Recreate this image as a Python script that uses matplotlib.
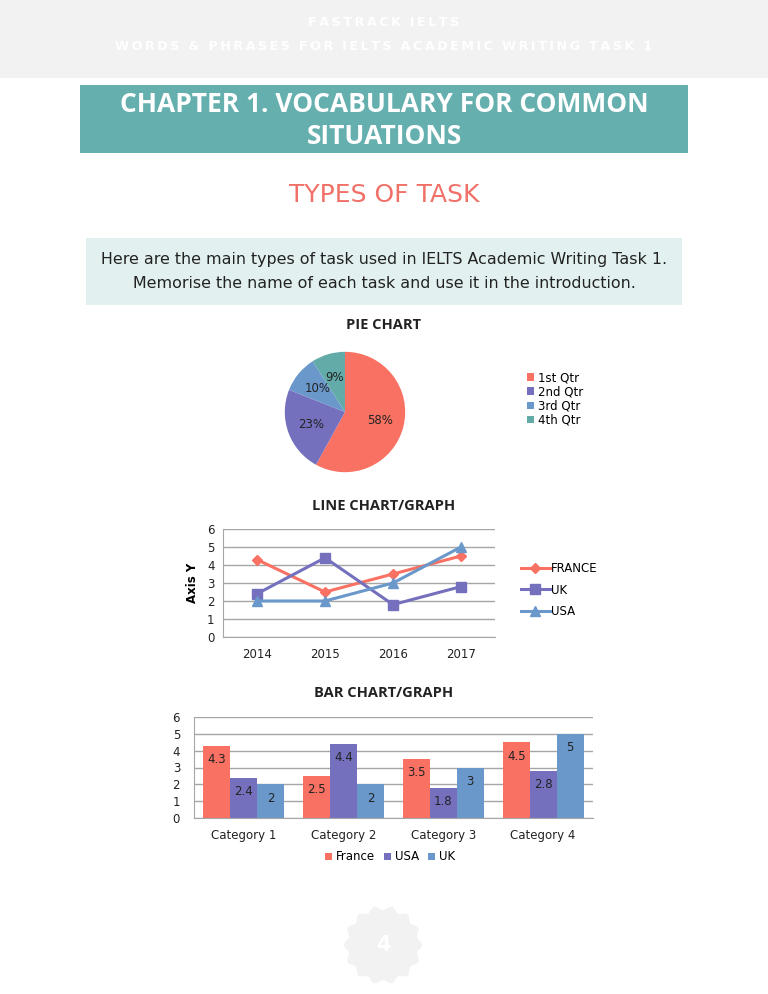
import numpy as np
import matplotlib.pyplot as plt
from matplotlib.patches import Rectangle, Polygon

W, H = 768, 994

# data
pie_labels = ['1st Qtr', '2nd Qtr', '3rd Qtr', '4th Qtr']
pie_values = [58, 23, 10, 9]

years = ['2014', '2015', '2016', '2017']
line_france = [4.3, 2.5, 3.5, 4.5]
line_uk = [2.4, 4.4, 1.8, 2.8]
line_usa = [2, 2, 3, 5]

categories = ['Category 1', 'Category 2', 'Category 3', 'Category 4']
bar_france = [4.3, 2.5, 3.5, 4.5]
bar_usa = [2.4, 4.4, 1.8, 2.8]
bar_uk = [2, 2, 3, 5]

RED = '#F87163'
PURPLE = '#7470BE'
BLUE = '#6A98CB'
TEAL = '#63ABA8'
GRID = '#A6A6A6'
FONT = 'DejaVu Sans'

fig = plt.figure(figsize=(W / 100, H / 100), dpi=100)
fig.patch.set_facecolor('white')


def fx(x):
    return x / W


def fy(y):
    return 1 - y / H


def add_ax(x0, y0, x1, y1):
    return fig.add_axes([fx(x0), fy(y1), (x1 - x0) / W, (y1 - y0) / H])


def spaced(s):
    # letter-spaced caps like the page header
    return '\u2009'.join(s).replace('\u2009 \u2009', '  ')


# page furniture
fig.patches.append(Rectangle((0, fy(78)), 1, 78 / H, transform=fig.transFigure,
                             facecolor='#F2F2F2', edgecolor='none'))
fig.text(0.5, fy(22), spaced('FASTRACK IELTS'), ha='center', va='center',
         color='white', fontsize=9.2, fontweight='bold', family=FONT)
fig.text(0.5, fy(47), spaced('WORDS & PHRASES FOR IELTS ACADEMIC WRITING TASK 1'),
         ha='center', va='center', color='white', fontsize=9.2, fontweight='bold', family=FONT)

fig.patches.append(Rectangle((fx(80), fy(153)), 608 / W, 68 / H, transform=fig.transFigure,
                             facecolor='#66AFAF', edgecolor='none'))
fig.text(0.5, fy(104), 'CHAPTER 1. VOCABULARY FOR COMMON', ha='center', va='center',
         color='white', fontsize=19, fontweight='bold', family='Open Sans')
fig.text(0.5, fy(136), 'SITUATIONS', ha='center', va='center',
         color='white', fontsize=19, fontweight='bold', family='Open Sans')

fig.text(0.5, fy(195), 'TYPES OF TASK', ha='center', va='center',
         color='#F07167', fontsize=18, family=FONT)

fig.patches.append(Rectangle((fx(86), fy(305)), 596 / W, 67 / H, transform=fig.transFigure,
                             facecolor='#E2F0F0', edgecolor='none'))
fig.text(0.5, fy(260), 'Here are the main types of task used in IELTS Academic Writing Task 1.',
         ha='center', va='center', color='#222222', fontsize=11.4, family=FONT)
fig.text(0.5, fy(284), 'Memorise the name of each task and use it in the introduction.',
         ha='center', va='center', color='#222222', fontsize=11.4, family=FONT)

# pie chart
fig.text(fx(384), fy(325), 'PIE CHART', ha='center', va='center',
         fontsize=10.5, fontweight='bold', family='Open Sans', color='#222222')
ax = add_ax(280, 347, 410, 477)
wedges, _, autotexts = ax.pie(pie_values, colors=[RED, PURPLE, BLUE, TEAL], startangle=90,
                              counterclock=False, autopct='%.0f%%', pctdistance=0.6,
                              textprops=dict(fontsize=8.5, color='#222222', family=FONT))
ax.set_xlim(-1.08, 1.08)
ax.set_ylim(-1.08, 1.08)
ax.set_aspect('equal')
fig.legend(wedges, pie_labels, loc='center left', bbox_to_anchor=(fx(516), fy(399)),
           frameon=False, handlelength=0.6, handleheight=0.6,
           handletextpad=0.4, labelspacing=0.1, prop=dict(family=FONT, size=8.5))

# line chart
fig.text(fx(384), fy(506), 'LINE CHART/GRAPH', ha='center', va='center',
         fontsize=10.5, fontweight='bold', family='Open Sans', color='#222222')
ax = add_ax(223, 529, 495, 637)
x = np.arange(len(years))
ax.plot(x, line_france, color=RED, lw=2.2, marker='D', ms=5.5, label='FRANCE')
ax.plot(x, line_uk, color=PURPLE, lw=2.2, marker='s', ms=7, label='UK')
ax.plot(x, line_usa, color=BLUE, lw=2.2, marker='^', ms=7.5, label='USA')
ax.set_xlim(-0.5, 3.5)
ax.set_ylim(0, 6)
ax.set_yticks(range(7))
ax.set_xticks(x)
ax.set_xticklabels(years)
ax.yaxis.grid(True, color=GRID, lw=1)
ax.set_axisbelow(True)
for s in ['top', 'right']:
    ax.spines[s].set_visible(False)
for s in ['left', 'bottom']:
    ax.spines[s].set_color(GRID)
ax.tick_params(length=0, labelsize=8.5, colors='#222222', pad=8)
ax.tick_params(axis='y', pad=6)
for t in ax.get_xticklabels() + ax.get_yticklabels():
    t.set_family(FONT)
ax.set_ylabel('Axis Y', fontsize=8.5, fontweight='bold', family=FONT, labelpad=6)
ax.legend(loc='center left', bbox_to_anchor=(fx(510), fy(590)), bbox_transform=fig.transFigure,
          frameon=False, handlelength=2.5, handletextpad=0.1, labelspacing=0.7,
          prop=dict(family=FONT, size=8.5))

# bar chart
fig.text(fx(384), fy(693), 'BAR CHART/GRAPH', ha='center', va='center',
         fontsize=10.5, fontweight='bold', family='Open Sans', color='#222222')
ax = add_ax(194, 717, 593, 818)
x = np.arange(len(categories))
bw = 0.27
for off, vals, col, lab in [(-bw, bar_france, RED, 'France'),
                            (0, bar_usa, PURPLE, 'USA'),
                            (bw, bar_uk, BLUE, 'UK')]:
    bars = ax.bar(x + off, vals, width=bw, color=col, label=lab)
    for b, v in zip(bars, vals):
        ax.annotate(f'{v:g}', (b.get_x() + b.get_width() / 2, v), xytext=(0, -10),
                    textcoords='offset points', ha='center', va='center',
                    fontsize=8.5, color='#222222', family=FONT)
ax.set_xlim(-0.5, 3.5)
ax.set_ylim(0, 6)
ax.set_yticks(range(7))
ax.set_xticks(x)
ax.set_xticklabels(categories)
ax.yaxis.grid(True, color=GRID, lw=1)
ax.set_axisbelow(True)
for s in ['top', 'right']:
    ax.spines[s].set_visible(False)
for s in ['left', 'bottom']:
    ax.spines[s].set_color(GRID)
ax.tick_params(length=0, labelsize=8.5, colors='#222222', pad=8)
ax.tick_params(axis='y', pad=10)
for t in ax.get_xticklabels() + ax.get_yticklabels():
    t.set_family(FONT)
ax.legend(loc='center', bbox_to_anchor=(fx(390), fy(857)), bbox_transform=fig.transFigure,
          ncol=3, frameon=False, handlelength=0.6, handleheight=0.6, handletextpad=0.3,
          columnspacing=0.8, prop=dict(family=FONT, size=8.5))

# page number badge
t = np.linspace(0, 2 * np.pi, 400)
r = 37 + 2.2 * np.cos(14 * t)
px = 383 + r * np.cos(t)
py = 945 + r * np.sin(t)
fig.patches.append(Polygon(np.column_stack([fx(px), fy(py)]), closed=True,
                           transform=fig.transFigure, facecolor='#F2F2F2', edgecolor='none'))
fig.text(fx(383), fy(945), '4', ha='center', va='center', color='white',
         fontsize=15, fontweight='bold', family=FONT)

fig.savefig('out.png', dpi=100)
